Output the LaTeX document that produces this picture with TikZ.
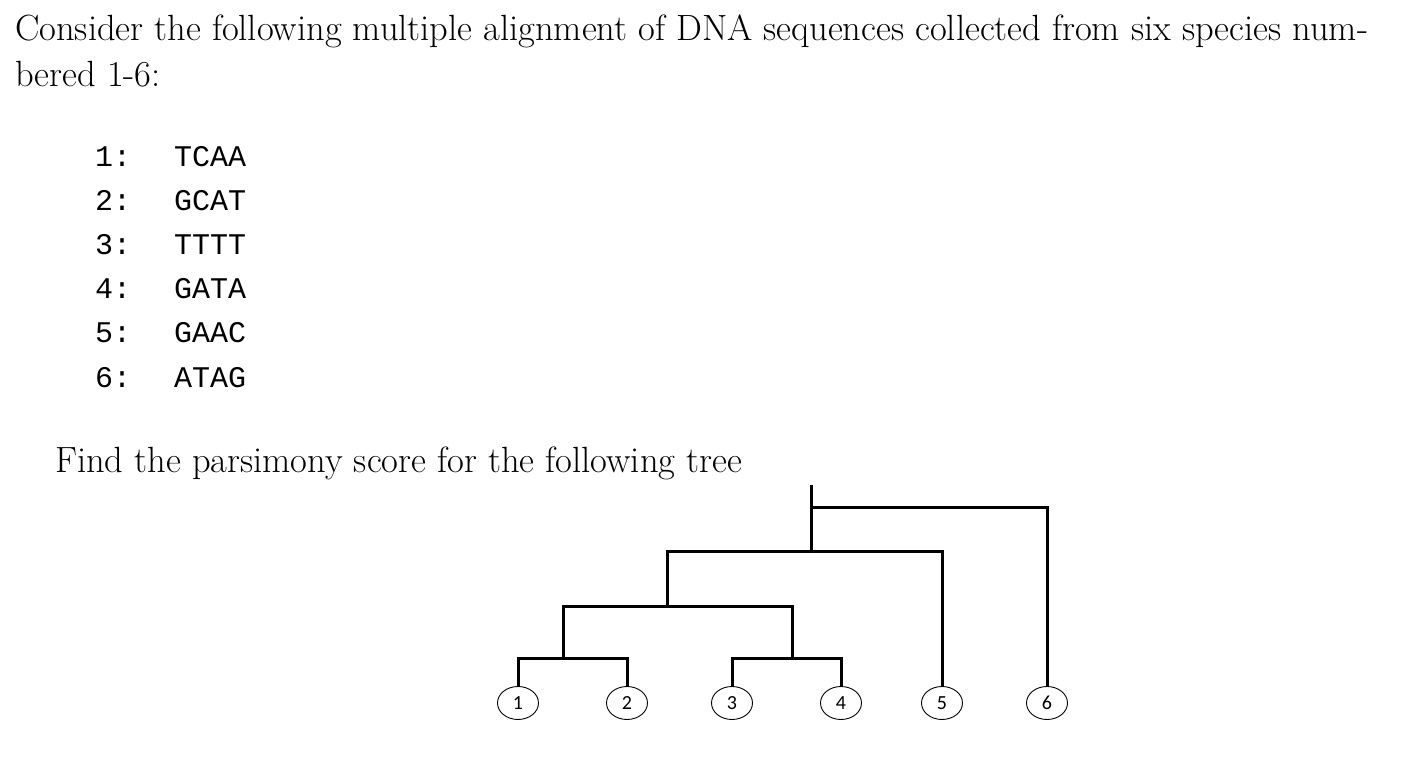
\documentclass[tikz,border=0pt]{standalone}
\usepackage{fontspec}
\setmonofont{Liberation Mono}
\setsansfont{Carlito}
\usetikzlibrary{shapes.geometric}
\begin{document}
\begin{tikzpicture}[x=1pt,y=-1pt,
  leaf/.style={draw,ellipse,minimum width=41pt,minimum height=33pt,inner sep=0pt,font=\sffamily\fontsize{20}{20}\selectfont,line width=0.9pt},
  br/.style={line width=3pt},
  txt/.style={anchor=base west,inner sep=0pt,font=\fontsize{36.5}{36.5}\selectfont},
  seq/.style={anchor=base west,inner sep=0pt,font=\ttfamily\fontsize{30}{30}\selectfont}]
\useasboundingbox (0,0) rectangle (1419,771);
\node[txt] (t1) at (15,40) {Consider the following multiple alignment of DNA sequences collected from six species num-};
\node[txt] (t2) at (15,86) {bered 1-6:};
\foreach \i/\s [count=\k] in {1/TCAA,2/GCAT,3/TTTT,4/GATA,5/GAAC,6/ATAG}{
  \node[seq] (n\i) at (95,{166+(\k-1)*44.2}) {\i:};
  \node[seq] (s\i) at (174,{166+(\k-1)*44.2}) {\s};
}
\node[txt] (q) at (55,472) {Find the parsimony score for the following tree};
\node[leaf] (l1) at (518,703) {1};
\node[leaf] (l2) at (627,703) {2};
\node[leaf] (l3) at (732,703) {3};
\node[leaf] (l4) at (841,703) {4};
\node[leaf] (l5) at (942,703) {5};
\node[leaf] (l6) at (1047,703) {6};
\coordinate (a) at (563,658);
\coordinate (b) at (792,658);
\coordinate (c) at (667,606);
\coordinate (d) at (811,551);
\coordinate (r) at (811,485);
\draw[br] (l1.north) |- (a) -| (l2.north);
\draw[br] (l3.north) |- (b) -| (l4.north);
\draw[br] (a) |- (c) -| (b);
\draw[br] (c) |- (d) -| (l5.north);
\draw[br] (r) -- (d);
\draw[br] (811,507) -| (l6.north);
\end{tikzpicture}
\end{document}
